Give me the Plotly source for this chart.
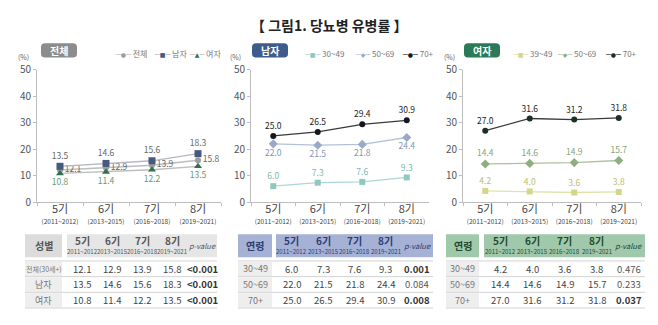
import plotly.graph_objects as go

# ---------------- data ----------------
periods = ["5기", "6기", "7기", "8기"]
years = ["2011~2012", "2013~2015", "2016~2018", "2019~2021"]

total_all = [12.1, 12.9, 13.9, 15.8]
total_men = [13.5, 14.6, 15.6, 18.3]
total_women = [10.8, 11.4, 12.2, 13.5]
p_total = ["&lt;0.001", "&lt;0.001", "&lt;0.001"]

men_30_49 = [6.0, 7.3, 7.6, 9.3]
men_50_69 = [22.0, 21.5, 21.8, 24.4]
men_70 = [25.0, 26.5, 29.4, 30.9]
p_men = ["0.001", "0.084", "0.008"]

women_30_49 = [4.2, 4.0, 3.6, 3.8]
women_50_69 = [14.4, 14.6, 14.9, 15.7]
women_70 = [27.0, 31.6, 31.2, 31.8]
p_women = ["0.476", "0.233", "0.037"]

sex_rows = ["전체(30세+)", "남자", "여자"]
age_rows = ["30~49", "50~69", "70+"]
legend_total = ["전체", "남자", "여자"]
legend_men = ["30~49", "50~69", "70+"]
legend_women = ["39~49", "50~69", "70+"]
badges = ["전체", "남자", "여자"]
title = "【 그림1. 당뇨병 유병률 】"

# ---------------- helpers ----------------
W, H = 658, 325
FONT = "Noto Sans CJK KR"


def px(x):
    return x / W


def py(y):
    return 1 - y / H


fig = go.Figure()

ticktext = [f"<span style='font-size:11px'>{p}</span><br><span style='font-size:6.5px'>({y})</span>"
            for p, y in zip(periods, years)]

panels = [
    dict(x="x", y="y", series=[
        (legend_total[0], total_all, "circle", "#9d9d9d", "#bdbdbd", "#666666", "middle right", 6),
        (legend_total[1], total_men, "square", "#46597f", "#b3b8c4", "#666666", "top center", 7),
        (legend_total[2], total_women, "triangle-up", "#2f6f52", "#bdbdbd", "#5f9c70", "bottom center", 7),
    ]),
    dict(x="x2", y="y2", series=[
        (legend_men[0], men_30_49, "square", "#8fc8c2", "#acd8d3", "#79b8b1", "top center", 6),
        (legend_men[1], men_50_69, "diamond", "#9aaac6", "#b5c1d7", "#8494b3", "bottom center", 7),
        (legend_men[2], men_70, "circle", "#16161e", "#3a3a3a", "#222222", "top center", 6),
    ]),
    dict(x="x3", y="y3", series=[
        (legend_women[0], women_30_49, "square", "#d2d78b", "#dfe3a9", "#b8bc78", "top center", 6),
        (legend_women[1], women_50_69, "diamond", "#8fae80", "#aac39d", "#87a379", "top center", 7),
        (legend_women[2], women_70, "circle", "#1c3124", "#3a3a3a", "#222222", "top center", 6),
    ]),
]

for pn in panels:
    for name, vals, sym, mc, lc, tc, tpos, ms in pn["series"]:
        fig.add_trace(go.Scatter(
            x=periods, y=vals, xaxis=pn["x"], yaxis=pn["y"], name=name,
            mode="lines+markers+text", text=[f"{v:.1f}" for v in vals],
            textposition=tpos, textfont=dict(size=8.5, color=tc, family=FONT),
            line=dict(color=lc, width=1.3), marker=dict(symbol=sym, size=ms, color=mc),
            cliponaxis=False, showlegend=False, hoverinfo="skip"))

xdoms = [[px(37), px(221)], [px(251), px(429)], [px(463), px(641)]]
ydom = [py(203), py(64)]
ax_common_x = dict(type="category", range=[-0.5, 3.5], tickson="boundaries", ticks="outside",
                   ticklen=3, tickcolor="#bdbdbd", showline=True, linecolor="#bdbdbd",
                   tickvals=periods, ticktext=ticktext, showgrid=False, tickangle=0,
                   tickfont=dict(size=8.5, color="#444", family=FONT))
ax_common_y = dict(range=[0, 50], dtick=10, ticks="outside", ticklen=3, tickcolor="#bdbdbd",
                   showline=True, linecolor="#bdbdbd", showgrid=False, zeroline=False,
                   tickfont=dict(size=10, color="#555", family=FONT))
for i, suf in enumerate(["", "2", "3"]):
    fig.update_layout(**{
        f"xaxis{suf}": dict(domain=xdoms[i], anchor=f"y{suf}", **ax_common_x),
        f"yaxis{suf}": dict(domain=ydom, anchor=f"x{suf}", **ax_common_y),
    })

annotations = []
shapes = []


def text(x, y, s, size, color, xanchor="center", bold=False, family=FONT):
    annotations.append(dict(x=px(x), y=py(y), xref="paper", yref="paper",
                            text=f"<b>{s}</b>" if bold else s, showarrow=False,
                            xanchor=xanchor, yanchor="middle",
                            font=dict(size=size, color=color, family=family)))


def rect(x0, y0, x1, y1, fill, layer="below"):
    shapes.append(dict(type="rect", xref="paper", yref="paper", x0=px(x0), x1=px(x1),
                       y0=py(y1), y1=py(y0), fillcolor=fill, line=dict(width=0), layer=layer))


def hline(x0, x1, y, color):
    shapes.append(dict(type="line", xref="paper", yref="paper", x0=px(x0), x1=px(x1),
                       y0=py(y), y1=py(y), line=dict(color=color, width=1), layer="below"))


# title
text(329, 17, title, 14, "#222", bold=True)

# (%) labels
for xx in [23, 235, 449]:
    text(xx, 51, "(%)", 7, "#666")

# badges
badge_boxes = [(41, 36, 77, 51, "#8c8c8c"), (252, 36, 288, 51, "#3e5b8c"), (464, 36, 500, 51, "#2a7a59")]


def P(x, y):
    return f"{x / W:.5f},{1 - y / H:.5f}"


for (x0, y0, x1, y1, col), lab in zip(badge_boxes, badges):
    r = 4
    path = (f"M{P(x0 + r, y0)} L{P(x1 - r, y0)} Q{P(x1, y0)} {P(x1, y0 + r)} "
            f"L{P(x1, y1 - r)} Q{P(x1, y1)} {P(x1 - r, y1)} L{P(x0 + r, y1)} "
            f"Q{P(x0, y1)} {P(x0, y1 - r)} L{P(x0, y0 + r)} Q{P(x0, y0)} {P(x0 + r, y0)} Z")
    shapes.append(dict(type="path", path=path, xref="paper", yref="paper",
                       fillcolor=col, line=dict(width=0), layer="below"))
    text((x0 + x1) / 2, (y0 + y1) / 2, lab, 10, "white", bold=True)

# legends
glyph = {"circle": "●", "square": "■", "triangle-up": "▲", "diamond": "◆"}
leg_x = [[113, 152, 187], [302, 353, 400], [510, 555, 603]]
for pn, xs in zip(panels, leg_x):
    for (name, vals, sym, mc, lc, tc, tpos, ms), xx in zip(pn["series"], xs):
        txt = (f"<span style='font-family:DejaVu Sans;color:{lc}'>─</span>"
               f"<span style='font-family:DejaVu Sans;color:{mc};font-size:6px'>{glyph[sym]}</span>"
               f"<span style='font-family:DejaVu Sans;color:{lc}'>─</span> {name}")
        text(xx, 47, txt, 8, "#777", xanchor="left")

# ---------------- tables (shapes + annotations built from the data lists) ----------------
tables = [
    dict(first=(25, 62), data=(67, 217), h1fill="#dcdcdc", hfill="#e6e6e6", hcol="#555555", head="성별",
         rows=sex_rows, vals=[total_all, total_men, total_women], p=p_total, sig=[True, True, True]),
    dict(first=(238, 272), data=(276, 433), h1fill="#a6b1d6", hfill="#a6b1d6", hcol="#2b3d72", head="연령",
         rows=age_rows, vals=[men_30_49, men_50_69, men_70], p=p_men, sig=[True, False, True]),
    dict(first=(446, 479), data=(484, 645), h1fill="#a0c8ab", hfill="#a0c8ab", hcol="#1f4a31", head="연령",
         rows=age_rows, vals=[women_30_49, women_50_69, women_70], p=p_women, sig=[False, False, True]),
]
HDR_TOP, HDR_BOT, BODY_TOP, ROW_H = 237, 261, 265, 16.5
for t in tables:
    fx0, fx1 = t["first"]
    dx0, dx1 = t["data"]
    # header
    rect(fx0, HDR_TOP, fx1, HDR_BOT, t["h1fill"])
    rect(dx0, HDR_TOP, dx1, HDR_BOT, t["hfill"])
    text((fx0 + fx1) / 2, (HDR_TOP + HDR_BOT) / 2, t["head"], 10, t["hcol"], bold=True)
    cw = (dx1 - dx0) / 5
    for i, (p, y) in enumerate(zip(periods, years)):
        cx = dx0 + cw * (i + 0.5)
        text(cx, 243.5, p, 10, t["hcol"], bold=True)
        text(cx, 255, y, 6, t["hcol"])
    text(dx0 + cw * 4.5, 249, "<i>p-value</i>", 7.5, t["hcol"])
    # body
    hline(fx0, dx1, BODY_TOP, "#d3d3d3")
    for r, lab in enumerate(t["rows"]):
        y0 = BODY_TOP + r * ROW_H
        y1 = y0 + ROW_H
        cy = (y0 + y1) / 2
        rect(fx0, y0 + 1, fx1, y1 - 0.5, "#eeeeee")
        text((fx0 + fx1) / 2, cy, lab, 7 if len(lab) > 5 else 9, "#777")
        for i in range(4):
            text(dx0 + cw * (i + 0.5), cy, f"{t['vals'][r][i]:.1f}", 9.5, "#444")
        pv = t["p"][r]
        text(dx0 + cw * 4.5, cy, pv, 9.5, "#333" if t["sig"][r] else "#555", bold=t["sig"][r])
        hline(fx0, dx1, y1, "#d3d3d3")

fig.update_layout(width=W, height=H, margin=dict(l=0, r=0, t=0, b=0),
                  paper_bgcolor="white", plot_bgcolor="white",
                  font=dict(family=FONT), showlegend=False,
                  annotations=annotations, shapes=shapes)

fig.write_html("out.html")
